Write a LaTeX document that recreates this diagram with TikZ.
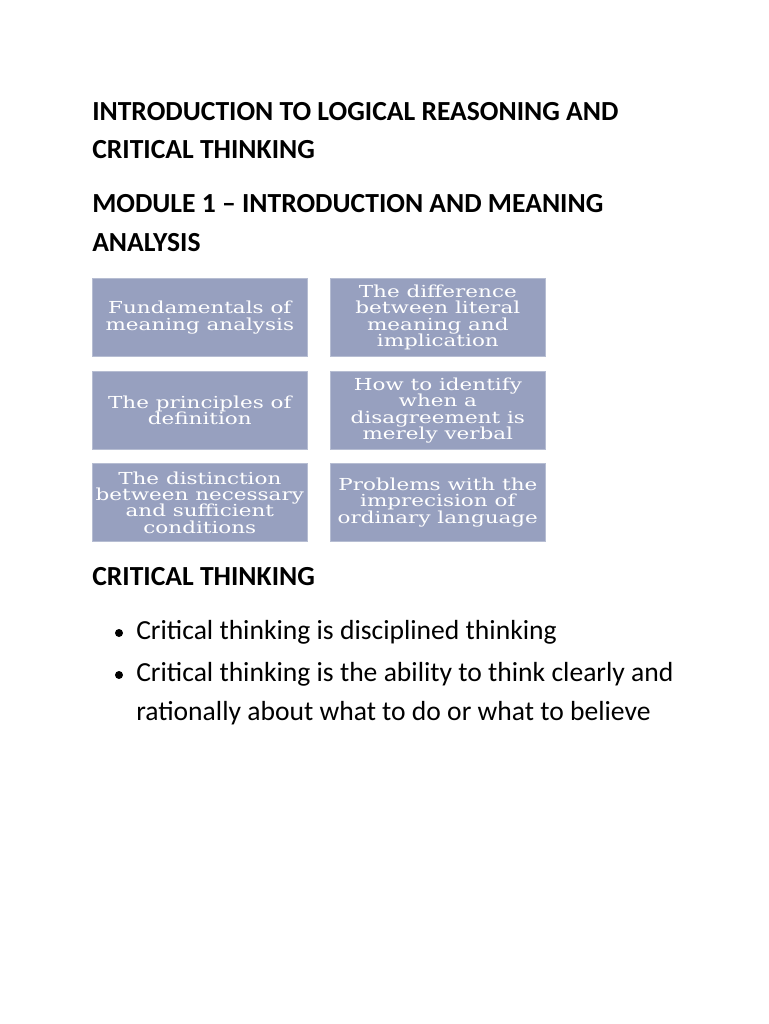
\documentclass[tikz,border=0pt]{standalone}
\usepackage{fontspec}
\setmainfont{Carlito}
\newfontfamily\boxfont[FakeStretch=1.3]{DejaVu Serif}
\begin{document}
\begin{tikzpicture}[x=0.75pt,y=-0.75pt,
 head/.style={anchor=west,inner sep=0pt,font=\bfseries\fontsize{20.7}{24}\selectfont},
 body/.style={anchor=west,inner sep=0pt,font=\fontsize{20.7}{24}\selectfont},
 tile/.style={fill=tileblue,draw=tileblue!70!white,line width=0.75pt,minimum width=161pt,minimum height=58.5pt,inner sep=0pt,text=white,align=center,font=\boxfont\fontsize{12.4}{12.2}\selectfont,anchor=north west}]
\definecolor{tileblue}{HTML}{97A0BF}
\useasboundingbox (0,0) rectangle (768,1024);
\fill[white] (0,0) rectangle (768,1024);
\node[head] (h1) at (92,112) {INTRODUCTION TO LOGICAL REASONING AND};
\node[head] (h2) at (92,150) {CRITICAL THINKING};
\node[head] (h3) at (92,204) {MODULE 1 – INTRODUCTION AND MEANING};
\node[head] (h4) at (92,243) {ANALYSIS};
\node[tile] (b1) at (92,278) {Fundamentals of\\meaning analysis};
\node[tile] (b2) at (330,278) {The difference\\between literal\\meaning and\\implication};
\node[tile] (b3) at (92,371) {The principles of\\definition};
\node[tile] (b4) at (330,371) {How to identify\\when a\\disagreement is\\merely verbal};
\node[tile] (b5) at (92,463) {The distinction\\between necessary\\and sufficient\\conditions};
\node[tile] (b6) at (330,463) {Problems with the\\imprecision of\\ordinary language};
\node[head] (h5) at (92,577) {CRITICAL THINKING};
\fill (119,633) circle (4) coordinate (d1);
\fill (119,675) circle (4) coordinate (d2);
\node[body] (t1) at (136,632) {Critical thinking is disciplined thinking};
\node[body] (t2) at (136,674) {Critical thinking is the ability to think clearly and};
\node[body] (t3) at (136,713) {rationally about what to do or what to believe};
\end{tikzpicture}
\end{document}
